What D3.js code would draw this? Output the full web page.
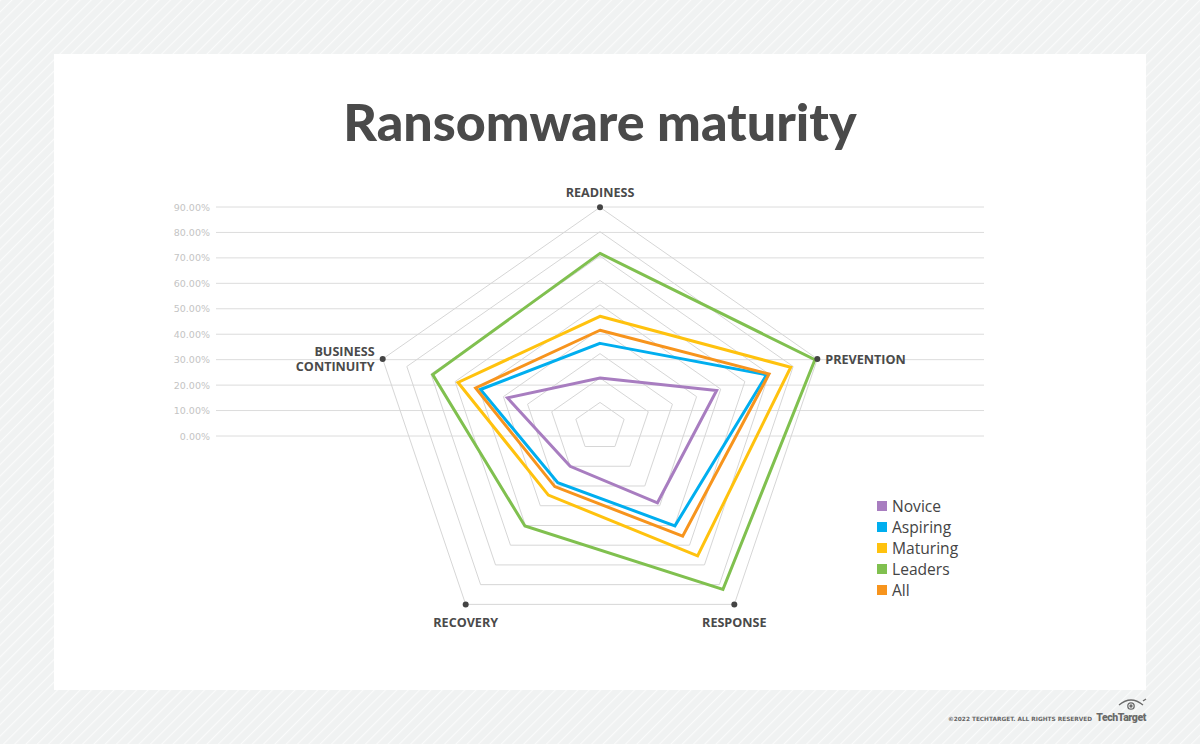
<!DOCTYPE html>
<html>
<head>
<meta charset="utf-8">
<script src="https://cdn.jsdelivr.net/npm/d3@7"></script>
<style>
  html, body { margin: 0; padding: 0; background: #f1f3f3; }
  svg { display: block; }
</style>
</head>
<body>
<svg id="chart" width="1200" height="744"></svg>
<script>
// ---- data ----
const categories = ["READINESS", "PREVENTION", "RESPONSE", "RECOVERY", "BUSINESS CONTINUITY"];
const seriesNames = ["Novice", "Aspiring", "Maturing", "Leaders", "All"];
const novice   = [0.200, 0.483, 0.385, 0.200, 0.383];
const aspiring = [0.342, 0.690, 0.502, 0.283, 0.495];
const maturing = [0.453, 0.790, 0.654, 0.346, 0.588];
const leaders  = [0.711, 0.890, 0.824, 0.503, 0.693];
const all      = [0.396, 0.700, 0.554, 0.303, 0.515];
const tickValues = [0, 0.1, 0.2, 0.3, 0.4, 0.5, 0.6, 0.7, 0.8, 0.9];
const tickLabels = ["0.00%", "10.00%", "20.00%", "30.00%", "40.00%", "50.00%", "60.00%", "70.00%", "80.00%", "90.00%"];
const colors = ["#a87dc0", "#00aeef", "#ffc20e", "#80c04f", "#f7941d"];
const titleText = "Ransomware maturity";
const footerText = "©2022 TECHTARGET. ALL RIGHTS RESERVED";
const logoText = "TechTarget";

const seriesValues = [novice, aspiring, maturing, leaders, all];
const series = seriesNames.map((n, i) => ({ name: n, values: seriesValues[i], color: colors[i] }));

const svg = d3.select("#chart");
const W = 1200, H = 744;

// background pattern
const defs = svg.append("defs");
const pat = defs.append("pattern").attr("id", "stripes").attr("patternUnits", "userSpaceOnUse")
  .attr("width", 8).attr("height", 8).attr("patternTransform", "rotate(45)");
pat.append("rect").attr("width", 8).attr("height", 8).attr("fill", "#f0f2f2");
pat.append("rect").attr("x", 0).attr("width", 1.2).attr("height", 8).attr("fill", "#fafbfb");
svg.append("rect").attr("width", W).attr("height", H).attr("fill", "url(#stripes)");

// white panel
svg.append("rect").attr("x", 54).attr("y", 54).attr("width", 1092).attr("height", 636).attr("fill", "#ffffff");

// title
svg.append("text").attr("x", 600).attr("y", 141).attr("text-anchor", "middle")
  .attr("font-family", "Lato, 'Open Sans', sans-serif").attr("font-weight", 900)
  .attr("font-size", 52).attr("fill", "#4a4a4a").text(titleText);

// horizontal value axis
const yLin = d3.scaleLinear().domain([0, 0.9]).range([436, 207]);
const gAxis = svg.append("g");
gAxis.selectAll("line.h").data(tickValues).join("line")
  .attr("x1", 216).attr("x2", 984)
  .attr("y1", d => yLin(d)).attr("y2", d => yLin(d))
  .attr("stroke", "#dcdcdc").attr("stroke-width", 1);
gAxis.selectAll("text.t").data(tickValues).join("text")
  .attr("x", 210).attr("y", d => yLin(d) + 3.5).attr("text-anchor", "end")
  .attr("font-family", "'DejaVu Sans', sans-serif").attr("font-size", 9.5)
  .attr("fill", "#c4c4c4").text((d, i) => tickLabels[i]);

// radar
const cx = 600, cy = 426.8, Rx = 228.5, Ry = 219.5;
const rScale = d3.scaleLinear().domain([0, 0.9]).range([0, 1]);
const angle = d3.scaleLinear().domain([0, categories.length]).range([0, 2 * Math.PI]);
const pt = (i, v) => {
  const a = angle(i), r = rScale(v);
  return [cx + r * Rx * Math.sin(a), cy - r * Ry * Math.cos(a)];
};
const lineGen = d3.line().curve(d3.curveLinearClosed);

const rings = tickValues.filter(d => d > 0);
svg.append("g").selectAll("path").data(rings).join("path")
  .attr("d", v => lineGen(categories.map((c, i) => pt(i, v))))
  .attr("fill", "none").attr("stroke", "#d6d6d6").attr("stroke-width", 1);

svg.append("g").selectAll("path").data(series).join("path")
  .attr("d", s => lineGen(s.values.map((v, i) => pt(i, v))))
  .attr("fill", "none").attr("stroke", s => s.color).attr("stroke-width", 3)
  .attr("stroke-linejoin", "miter");

// vertex dots
svg.append("g").selectAll("circle").data(categories).join("circle")
  .attr("cx", (c, i) => pt(i, 0.9)[0]).attr("cy", (c, i) => pt(i, 0.9)[1])
  .attr("r", 3).attr("fill", "#444");

// category labels
const labelFont = "'Open Sans', 'DejaVu Sans', sans-serif";
const labelPos = [
  { dx: 0, dy: -10, anchor: "middle" },
  { dx: 8, dy: 5, anchor: "start" },
  { dx: 0, dy: 23, anchor: "middle" },
  { dx: 0, dy: 23, anchor: "middle" },
  { dx: -8, dy: -3, anchor: "end" }
];
const gLab = svg.append("g").attr("font-family", labelFont).attr("font-weight", 700)
  .attr("font-size", 12.6).attr("fill", "#4a4a4a");
categories.forEach((c, i) => {
  const [x, y] = pt(i, 0.9);
  const p = labelPos[i];
  const words = c === "BUSINESS CONTINUITY" ? ["BUSINESS", "CONTINUITY"] : [c];
  const t = gLab.append("text").attr("x", x + p.dx).attr("y", y + p.dy).attr("text-anchor", p.anchor);
  words.forEach((w, k) => t.append("tspan").attr("x", x + p.dx).attr("dy", k === 0 ? 0 : 15).text(w));
});

// legend
const lg = svg.append("g").attr("transform", "translate(877,506)");
const row = lg.selectAll("g").data(series).join("g").attr("transform", (d, i) => `translate(0,${i * 21})`);
row.append("rect").attr("x", 0).attr("y", -5).attr("width", 10).attr("height", 10).attr("fill", d => d.color);
row.append("text").attr("x", 15).attr("y", 5.5).attr("font-family", labelFont)
  .attr("font-size", 15.6).attr("fill", "#444").text(d => d.name);

// footer
svg.append("text").attr("x", 1092).attr("y", 721).attr("text-anchor", "end")
  .attr("font-family", "'DejaVu Sans', sans-serif").attr("font-weight", 700)
  .attr("font-size", 5.8).attr("fill", "#666").text(footerText);
svg.append("text").attr("x", 1146).attr("y", 721).attr("text-anchor", "end")
  .attr("font-family", "'Roboto', sans-serif").attr("font-weight", 900)
  .attr("font-size", 10.5).attr("fill", "#6a6a6a").attr("letter-spacing", -0.4).text(logoText);
// eye icon
const eye = svg.append("g").attr("fill", "none").attr("stroke", "#6a6a6a").attr("stroke-width", 1.3);
eye.append("path").attr("d", "M1119,705 Q1131,695 1143,705");
eye.append("circle").attr("cx", 1131).attr("cy", 706).attr("r", 3.2);
eye.append("circle").attr("cx", 1131).attr("cy", 706).attr("r", 1).attr("fill", "#6a6a6a");
eye.append("line").attr("x1", 1143).attr("y1", 701).attr("x2", 1146).attr("y2", 699);
</script>
</body>
</html>
